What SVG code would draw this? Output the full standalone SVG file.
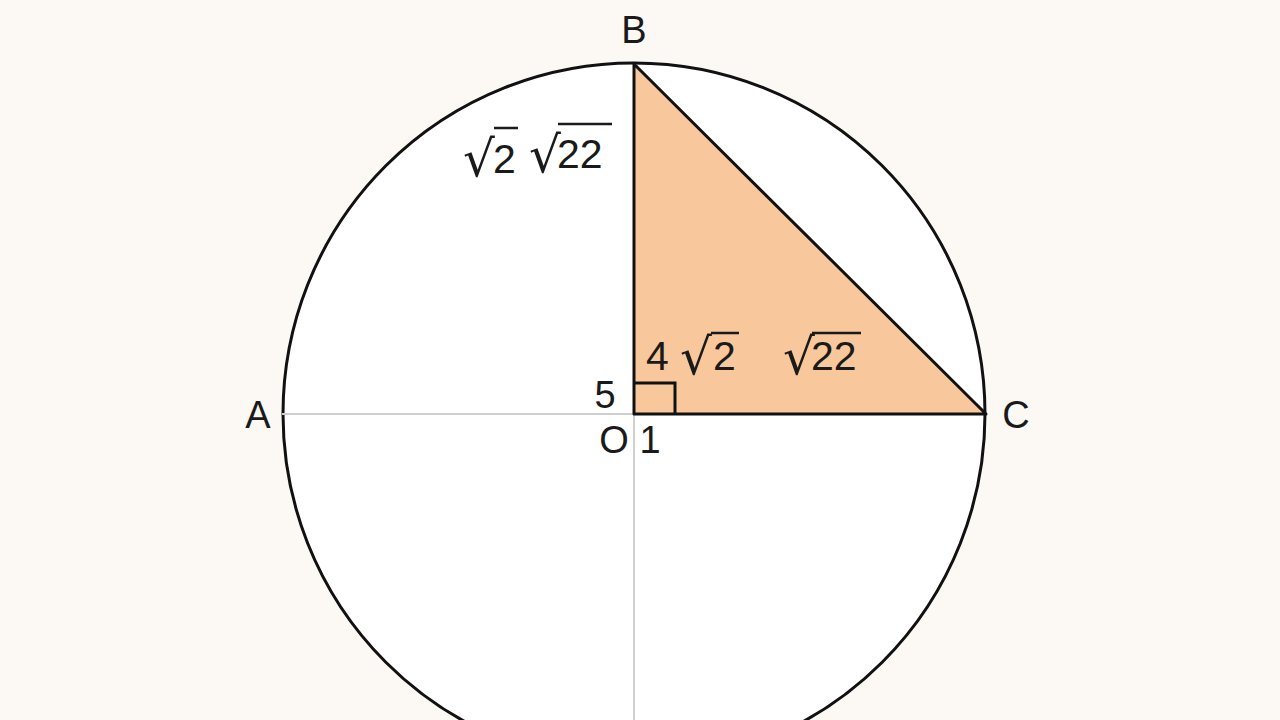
<svg xmlns="http://www.w3.org/2000/svg" width="1280" height="720" viewBox="0 0 1280 720">
<style>
.lbl{font-family:"Liberation Sans",Arial,sans-serif;font-size:38px;fill:#1a1a1a}
.num{font-family:"Liberation Sans",Arial,sans-serif;font-size:41px;fill:#1a1a1a}
.rad{font-family:"DejaVu Sans","Liberation Sans",sans-serif;font-size:50px}
.ov{stroke:#1a1a1a;stroke-width:2.5}
.axis{stroke:#cfcfcf;stroke-width:2;fill:none}
.edge{stroke:#111;stroke-width:3;fill:none}
</style>
<rect width="1280" height="720" fill="#fcf8f3"/>
<g id="circle"><circle cx="634" cy="414" r="351" fill="#ffffff" stroke="#111" stroke-width="3"/></g>
<g id="connectors">
<line class="axis" x1="282" y1="414" x2="634" y2="414"/>
<line class="axis" x1="634" y1="414" x2="634" y2="720"/>
</g>
<g id="triangle">
<polygon points="634,64 634,414 986,414" fill="#f8c89c" stroke="#111" stroke-width="3" stroke-linejoin="round"/>
<polyline class="edge" points="634,383 675,383 675,414" stroke-width="2.5"/>
</g>
<g id="point-B"><text class="lbl" x="634" y="43" text-anchor="middle">B</text></g>
<g id="point-A"><text class="lbl" x="258" y="428" text-anchor="middle">A</text></g>
<g id="point-C"><text class="lbl" x="1016" y="428" text-anchor="middle">C</text></g>
<g id="point-O"><text class="lbl" x="614" y="453" text-anchor="middle">O</text></g>
<g id="label-1"><text class="lbl" x="650" y="453" text-anchor="middle">1</text></g>
<g id="label-5"><text class="lbl" x="605" y="408" text-anchor="middle">5</text></g>
<g id="label-sqrt2-sqrt22">
<text class="num" x="463" y="173"><tspan class="rad" dy="3">√</tspan><tspan x="493" dy="-3">2</tspan></text>
<line class="ov" x1="494" y1="128" x2="518" y2="128"/>
<text class="num" x="529" y="168"><tspan class="rad" dy="4">√</tspan><tspan x="557" dy="-4">22</tspan></text>
<line class="ov" x1="558" y1="124" x2="612" y2="124"/>
</g>
<g id="label-4sqrt2">
<text class="num" x="646" y="370">4<tspan class="rad" x="680" dy="4">√</tspan><tspan x="713" dy="-4">2</tspan></text>
<line class="ov" x1="711" y1="333" x2="739" y2="333"/>
</g>
<g id="label-sqrt22">
<text class="num" x="783" y="370"><tspan class="rad" dy="4">√</tspan><tspan x="811" dy="-4">22</tspan></text>
<line class="ov" x1="812" y1="333" x2="861" y2="333"/>
</g>
</svg>
